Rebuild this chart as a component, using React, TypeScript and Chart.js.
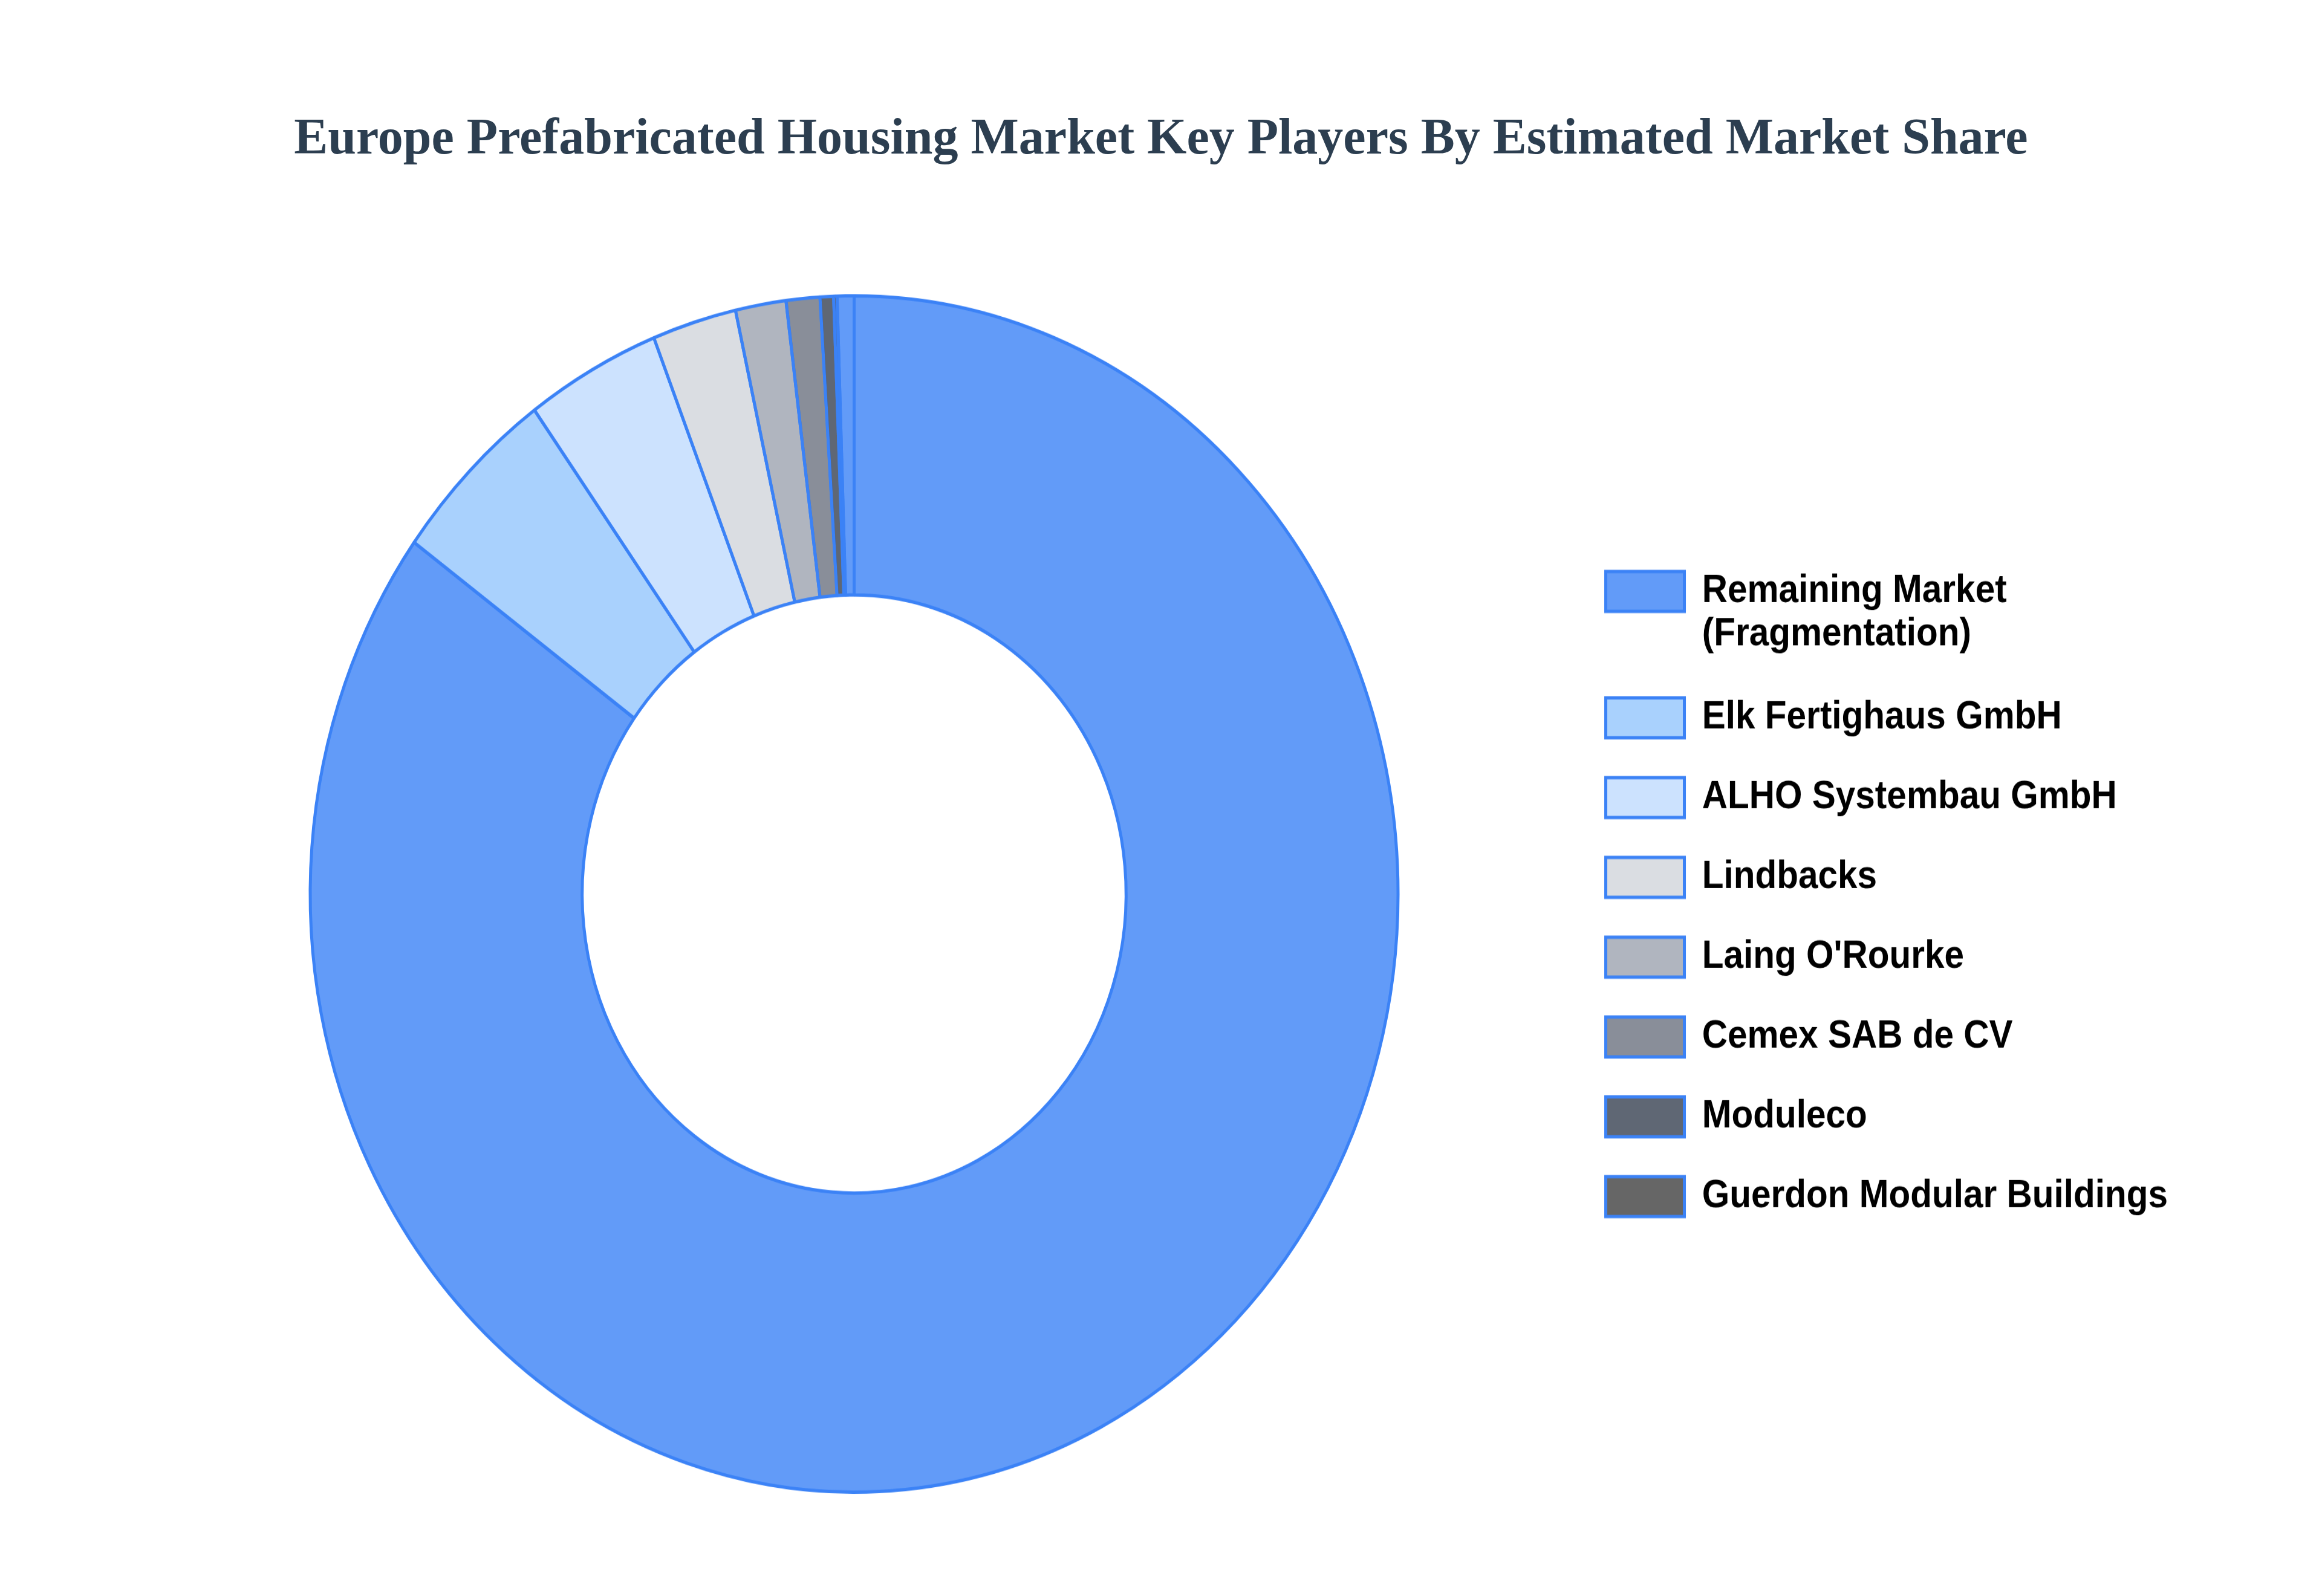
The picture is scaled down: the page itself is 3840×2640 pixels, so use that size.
import React, { useEffect, useRef } from 'react';
import { Chart, registerables } from 'chart.js';

Chart.register(...registerables);

const TITLE = 'Europe Prefabricated Housing Market Key Players By Estimated Market Share';

const PLAYERS: (string | string[])[] = [
  ['Remaining Market', '(Fragmentation)'],
  'Elk Fertighaus GmbH',
  'ALHO Systembau GmbH',
  'Lindbacks',
  "Laing O'Rourke",
  'Cemex SAB de CV',
  'Moduleco',
  'Guerdon Modular Buildings',
];

// estimated market share (%); the last, unlabeled value is the thin slice at the top
const SHARES = [85, 5, 4, 2.5, 1.5, 1, 0.4, 0.1, 0.5];

const FILL_COLORS = [
  'rgba(59,130,246,0.8)',
  'rgba(147,197,253,0.8)',
  'rgba(191,219,254,0.8)',
  'rgba(209,213,219,0.8)',
  'rgba(156,163,175,0.8)',
  'rgba(107,114,128,0.8)',
  'rgba(55,65,81,0.8)',
  'rgba(64,64,64,0.8)',
];
const BORDER_COLOR = '#3b82f6';

export default function App() {
  const ref = useRef<HTMLCanvasElement>(null);

  useEffect(() => {
    const chart = new Chart(ref.current as HTMLCanvasElement, {
      type: 'doughnut',
      data: {
        labels: PLAYERS as any,
        datasets: [
          {
            data: SHARES,
            backgroundColor: SHARES.map((_, i) => FILL_COLORS[i % FILL_COLORS.length]),
            borderColor: BORDER_COLOR,
            borderWidth: 5,
          },
        ],
      },
      options: {
        responsive: false,
        devicePixelRatio: 1,
        animation: false,
        cutout: '50%',
        layout: { padding: { left: 229.5, right: 245, top: 146, bottom: 150 } },
        plugins: {
          title: { display: false },
          tooltip: { enabled: false },
          legend: {
            position: 'right',
            labels: {
              boxWidth: 130,
              boxHeight: 60,
              padding: 60,
              color: '#000000',
              font: {
                family: '"Liberation Sans", Arial, Helvetica, sans-serif',
                size: 58.5,
                weight: 'bold',
                lineHeight: '65px' as any,
              },
            },
          },
        },
      },
    });
    return () => chart.destroy();
  }, []);

  return (
    <div style={{ position: 'absolute', left: 0, top: 0, width: 3840, height: 2640, background: '#ffffff' }}>
      <div
        style={{
          position: 'absolute',
          left: 0,
          top: 176,
          width: 3840,
          textAlign: 'center',
          fontFamily: '"Times New Roman", "Liberation Serif", serif',
          fontWeight: 'bold',
          fontSize: 84,
          lineHeight: '100px',
          color: '#2c3e50',
          whiteSpace: 'nowrap',
        }}
      >
        {TITLE}
      </div>
      <div
        style={{
          position: 'absolute',
          left: 0,
          top: 326,
          width: 3840,
          height: 2100,
          transform: 'scaleY(1.1)',
          transformOrigin: '0 0',
        }}
      >
        <canvas ref={ref} width={3840} height={2100} style={{ width: 3840, height: 2100, display: 'block' }} />
      </div>
    </div>
  );
}
